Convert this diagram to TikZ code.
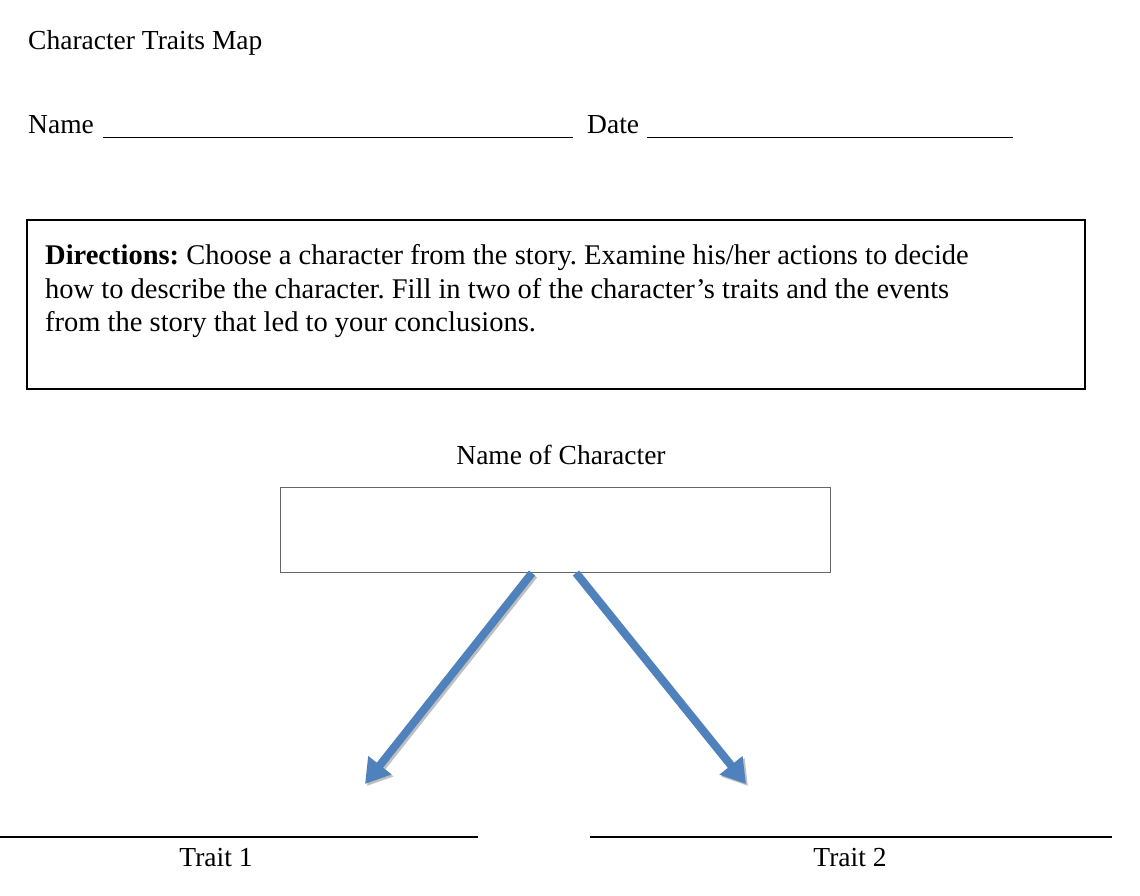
\documentclass[tikz,border=0pt]{standalone}
\usepackage{fontspec}
\setmainfont{Liberation Serif}
\usetikzlibrary{arrows.meta}
\definecolor{arrblue}{RGB}{79,129,189}
\begin{document}
\frenchspacing
\begin{tikzpicture}[x=1pt,y=-1pt,
  txt/.style={font=\fontsize{27.5}{33}\selectfont, inner sep=0pt},
  dtxt/.style={font=\fontsize{28.5}{34}\selectfont, inner sep=0pt, anchor=base west},
  blarrow/.style={draw=arrblue, line width=8pt, -{Triangle[length=24pt,width=28pt]}},
  shadowarrow/.style={draw=black!25, line width=8pt, -{Triangle[length=24pt,width=28pt]}}]
\useasboundingbox (0,0) rectangle (1140,896);
\node[txt, anchor=base west] (title) at (28,50) {Character Traits Map};
\node[txt, anchor=base west] (name) at (28,134) {Name};
\coordinate (n1) at (103,138); \coordinate (n2) at (573,138);
\draw[line width=1pt] (n1) -- (n2);
\node[txt, anchor=base west] (date) at (587,134) {Date};
\coordinate (d1) at (647,138); \coordinate (d2) at (1013,138);
\draw[line width=1pt] (d1) -- (d2);
\node[draw, line width=1.5pt, minimum width=1058pt, minimum height=169pt, anchor=north west] (dirbox) at (26,219) {};
\node[dtxt] (dir1) at (45,264) {\textbf{Directions:} Choose a character from the story. Examine his/her actions to decide};
\node[dtxt] (dir2) at (45,298) {how to describe the character. Fill in two of the character’s traits and the events};
\node[dtxt] (dir3) at (45,331) {from the story that led to your conclusions.};
\node[txt, anchor=base] (noc) at (561,464) {Name of Character};
\node[draw=black!60, line width=0.6pt, minimum width=550pt, minimum height=85pt, anchor=north west] (cbox) at (280,487) {};
\coordinate (a1s) at (532,573); \coordinate (a1e) at (365,784);
\coordinate (a2s) at (576,573); \coordinate (a2e) at (746,784);
\draw[shadowarrow] ([shift={(2,2)}]a1s) -- ([shift={(2,2)}]a1e);
\draw[shadowarrow] ([shift={(2,2)}]a2s) -- ([shift={(2,2)}]a2e);
\draw[blarrow] (a1s) -- (a1e);
\draw[blarrow] (a2s) -- (a2e);
\coordinate (t1a) at (0,837); \coordinate (t1b) at (478,837);
\coordinate (t2a) at (590,837); \coordinate (t2b) at (1112,837);
\draw[line width=2.5pt] (t1a) -- (t1b);
\draw[line width=2.5pt] (t2a) -- (t2b);
\node[txt, anchor=base] (tr1) at (216,866) {Trait 1};
\node[txt, anchor=base] (tr2) at (850,866) {Trait 2};
\end{tikzpicture}
\end{document}
